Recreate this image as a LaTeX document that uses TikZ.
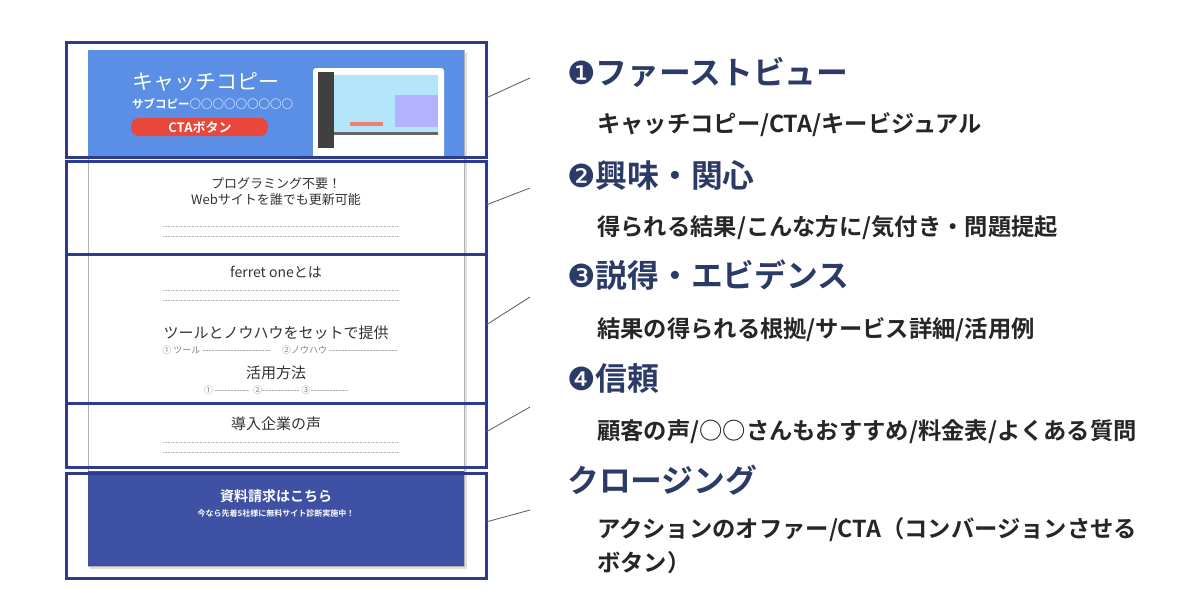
\documentclass[tikz,border=0pt]{standalone}
\usepackage{fontspec}
\newfontfamily\cjk{Noto Sans CJK JP}
\newfontfamily\cjkb{Noto Sans CJK JP Bold}
\newfontfamily\dv{DejaVu Sans}
\definecolor{navy}{HTML}{2E3A8C}
\definecolor{head}{HTML}{2B3A67}
\definecolor{hero}{HTML}{5B8FE6}
\definecolor{cta}{HTML}{E8473A}
\definecolor{close}{HTML}{3F51A5}
\tikzset{
 sec/.style={draw=navy,line width=3pt},
 lead/.style={draw=gray!70!black,line width=0.8pt},
 dots/.style={draw=gray!60,line width=0.8pt,dash pattern=on 1pt off 0.6pt},
 hd/.style={anchor=west,text=head,font=\fontsize{31.8}{32}\selectfont\cjkb,inner sep=0},
 sb/.style={anchor=west,text=black!85,font=\fontsize{23.3}{34}\selectfont\cjkb,inner sep=0,align=left},
 mt/.style={text=black!80,font=\fontsize{13}{16}\selectfont\cjk,inner sep=0,align=center}
}
\begin{document}
\begin{tikzpicture}[x=1pt,y=-1pt]
\useasboundingbox (0,0) rectangle (1200,600);
\fill[white] (0,0) rectangle (1200,600);
% page mock
\fill[gray!25] (90,53) rectangle (467,569);
\fill[white] (88,50) rectangle (464,566);
\draw[gray!60,line width=1pt] (88,50) rectangle (464,566);
\fill[hero] (88,50) rectangle (464,157);
\node[font=\fontsize{21}{24}\selectfont\cjk,text=white,anchor=west,inner sep=0] (cc) at (132,82) {キャッチコピー};
\node[font=\fontsize{11.5}{14}\selectfont\cjkb,text=white,anchor=west,inner sep=0] (sc) at (132,104) {サブコピー○○○○○○○○○};
\fill[cta,rounded corners=8pt] (131,118) rectangle (268,136);
\node[font=\fontsize{13}{15}\selectfont\cjkb,text=white] (ctab) at (200,127) {CTAボタン};
% laptop
\fill[white,rounded corners=3pt] (313,68) rectangle (444,160);
\fill[gray!20] (300,157) rectangle (457,160);
\fill[black!75] (318,72) rectangle (334,148);
\fill[cyan!30] (334,75) rectangle (438,132);
\fill[blue!30] (395,95) rectangle (438,127);
\fill[cta!70] (350,122) rectangle (383,126);
\fill[black!60] (334,132) rectangle (438,135);
% sections texts
\node[mt] (t1) at (276,192) {プログラミング不要！\\Webサイトを誰でも更新可能};
\draw[dots] (163,226) -- (399,226); \draw[dots] (163,236) -- (399,236);
\node[mt,font=\fontsize{14}{16}\selectfont\cjk] (t2) at (276,272) {ferret oneとは};
\draw[dots] (163,290) -- (399,290); \draw[dots] (163,300) -- (399,300);
\node[mt,font=\fontsize{15}{17}\selectfont\cjk] (t3) at (276,333) {ツールとノウハウをセットで提供};
\node[mt,font=\fontsize{9}{10}\selectfont\cjk,text=gray] (t3b) at (280,350) {① ツール ---------------------- \quad ②ノウハウ ----------------------};
\node[mt,font=\fontsize{15}{17}\selectfont\cjk] (t4) at (276,373) {活用方法};
\node[mt,font=\fontsize{9}{10}\selectfont\cjk,text=gray] (t4b) at (276,390) {① ----------- \ ②------------ ③------------};
\node[mt,font=\fontsize{15}{17}\selectfont\cjk] (t5) at (276,424) {導入企業の声};
\draw[dots] (163,442) -- (399,442); \draw[dots] (163,452) -- (399,452);
\fill[close] (88,471) rectangle (464,566);
\node[mt,text=white,font=\fontsize{14}{16}\selectfont\cjkb] (t6) at (276,496) {資料請求はこちら};
\node[mt,text=white,font=\fontsize{8}{10}\selectfont\cjkb] (t7) at (276,513) {今なら先着5社様に無料サイト診断実施中！};
% section frames
\draw[sec] (66,42) rectangle (486,157);
\draw[sec] (66,161) rectangle (486,254);
\draw[sec] (66,254) rectangle (486,403);
\draw[sec] (66,403) rectangle (486,467);
\draw[sec] (66,473) rectangle (486,578);
\coordinate (a1) at (486,98); \coordinate (b1) at (530,78);
\coordinate (a2) at (486,205); \coordinate (b2) at (530,188);
\coordinate (a3) at (486,325); \coordinate (b3) at (530,297);
\coordinate (a4) at (486,432); \coordinate (b4) at (530,407);
\coordinate (a5) at (486,522); \coordinate (b5) at (530,510);
\foreach \i in {1,...,5} \draw[lead] (a\i) -- (b\i);
% right texts
\node[hd] (h1) at (567,72) {{\dv ❶}ファーストビュー};
\node[sb] (s1) at (597,125) {キャッチコピー/CTA/キービジュアル};
\node[hd] (h2) at (567,175) {{\dv ❷}興味・関心};
\node[sb] (s2) at (597,228) {得られる結果/こんな方に/気付き・問題提起};
\node[hd] (h3) at (567,275) {{\dv ❸}説得・エビデンス};
\node[sb] (s3) at (597,330) {結果の得られる根拠/サービス詳細/活用例};
\node[hd] (h4) at (567,378) {{\dv ❹}信頼};
\node[sb] (s4) at (597,432) {顧客の声/○○さんもおすすめ/料金表/よくある質問};
\node[hd] (h5) at (567,480) {クロージング};
\node[sb,anchor=north west] (s5) at (597,517) {アクションのオファー/CTA（コンバージョンさせる\\ボタン）};
\end{tikzpicture}
\end{document}
